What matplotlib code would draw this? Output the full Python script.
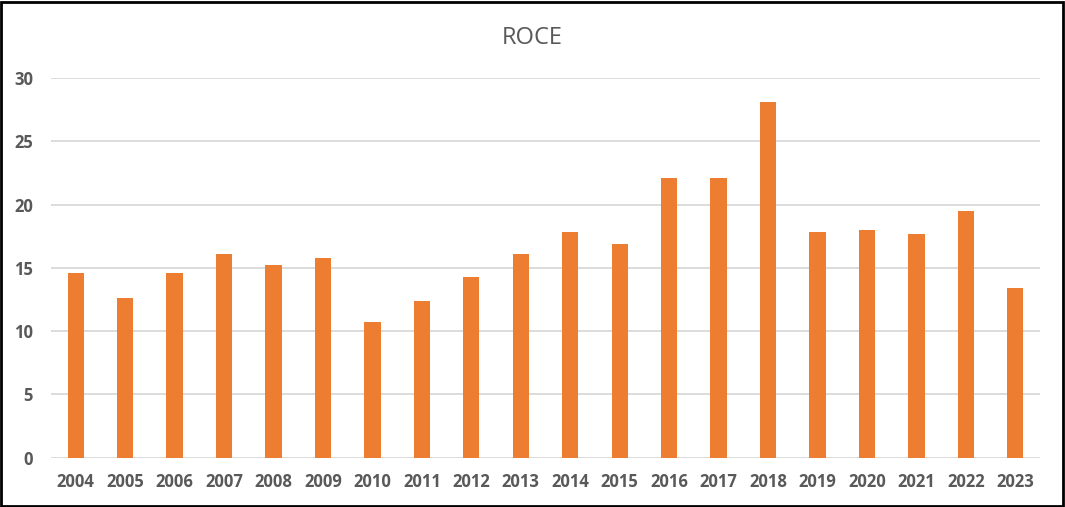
import matplotlib.pyplot as plt
from matplotlib.patches import Rectangle

years = [str(y) for y in range(2004, 2024)]
roce = [14.6, 12.6, 14.6, 16.1, 15.2, 15.8, 10.7, 12.4, 14.3, 16.1,
        17.8, 16.9, 22.1, 22.1, 28.1, 17.8, 18.0, 17.7, 19.5, 13.4]
y_ticks = [0, 5, 10, 15, 20, 25, 30]

W, H = 1065, 507
fig = plt.figure(figsize=(W / 100, H / 100), dpi=100)
ax = fig.add_axes([51 / W, 1 - 457.7 / H, (1040 - 51) / W, (457.7 - 78) / H])

text_col = "#595959"
grid_col = "#d9d9d9"
font = ["Open Sans", "DejaVu Sans"]

ax.bar(range(len(years)), roce, width=0.33, color="#ed7d31", zorder=3)
ax.set_xlim(-0.5, len(years) - 0.5)
ax.set_ylim(0, 30)
ax.set_yticks(y_ticks)
ax.set_xticks(range(len(years)))
ax.set_xticklabels(years)
ax.yaxis.grid(True, color=grid_col, linewidth=1.3, zorder=0)
for s in ax.spines.values():
    s.set_visible(False)
ax.tick_params(length=0, labelsize=12, labelcolor=text_col)
ax.tick_params(axis="y", pad=13)
ax.tick_params(axis="x", pad=11)
for lbl in ax.get_xticklabels() + ax.get_yticklabels():
    lbl.set_fontweight("bold")
    lbl.set_family(font)

fig.text(0.5, 1 - 38 / H, "ROCE", ha="center", va="center", fontsize=17,
         color=text_col, family=font)

# outer frame
fig.patches.append(Rectangle((0.001, 0.002), 0.997, 0.995, transform=fig.transFigure,
                             fill=False, edgecolor="black", linewidth=2))

fig.savefig("out.png", dpi=100)
